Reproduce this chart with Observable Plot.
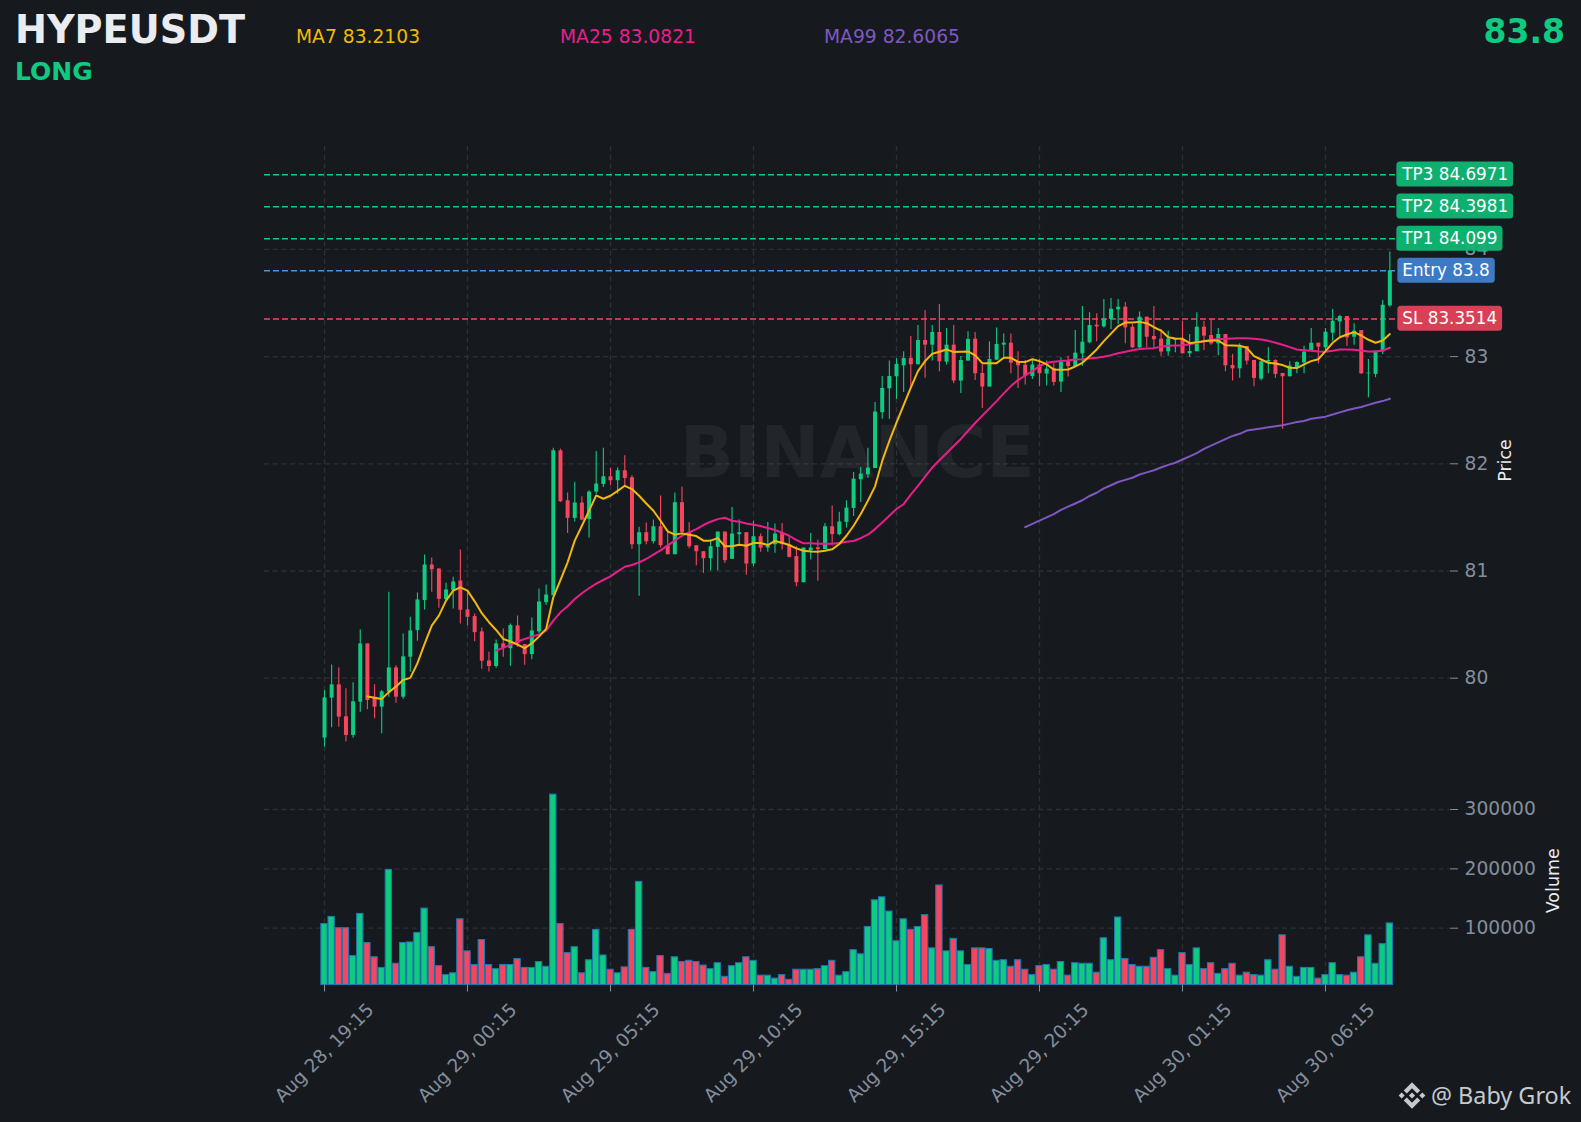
<!DOCTYPE html>
<html>
<head>
<meta charset="utf-8">
<script src="https://cdn.jsdelivr.net/npm/d3@7"></script>
<script src="https://cdn.jsdelivr.net/npm/@observablehq/plot@0.6"></script>
<style>
html,body{margin:0;padding:0;background:#161a1f;font-family:"DejaVu Sans",sans-serif;}
#page{position:relative;width:1581px;height:1122px;overflow:hidden;}
#head{position:relative;height:140px;}
#head div{position:absolute;white-space:nowrap;line-height:1;}
#chart svg{display:block;background:transparent;}
#brand{position:absolute;left:1398px;top:1079px;display:flex;align-items:center;color:#c6c9ce;font-family:"Noto Sans",sans-serif;font-size:23.4px;}
#brand svg{width:28px;height:27px;margin-right:5px;}
</style>
</head>
<body>
<div id="page">
<div id="head">
  <div style="left:15px;top:11px;font-size:38.2px;font-weight:700;color:#eaecef">HYPEUSDT</div>
  <div style="left:15px;top:59px;font-size:25px;font-weight:700;color:#0ecb81">LONG</div>
  <div style="left:296px;top:28px;font-size:18.7px;color:#f0b90b">MA7 83.2103</div>
  <div style="left:560px;top:28px;font-size:18.7px;color:#e91e8c">MA25 83.0821</div>
  <div style="left:824px;top:28px;font-size:18.7px;color:#7e57c2">MA99 82.6065</div>
  <div style="right:16px;top:15px;font-size:33px;font-weight:700;color:#0ecb81">83.8</div>
</div>
<div id="chart"></div>
<div id="brand"><svg viewBox="0 0 126 126"><path fill="#c6c9ce" d="M38.73 53.2L63 28.94l24.28 24.28 14.12-14.12L63 .69 24.6 39.09zM.61 63l14.12-14.12L28.85 63 14.73 77.12zM38.73 72.8L63 97.06l24.28-24.28 14.13 14.11L63 125.31 24.6 86.9zM97.15 63l14.12-14.12L125.39 63l-14.12 14.12zM77.32 63L63 48.67 48.67 63 63 77.32z"/></svg><span>@ Baby Grok</span></div>
</div>
<script>
const open = [79.441,79.814,79.938,79.640,79.466,79.776,80.320,79.823,79.730,79.870,80.096,79.823,80.196,80.444,80.724,81.056,81.019,80.733,80.817,80.907,
80.637,80.575,80.432,80.161,80.109,80.320,80.276,80.488,80.314,80.220,80.432,80.705,80.770,82.121,81.655,81.491,81.634,81.481,81.736,81.807,
81.879,81.842,81.935,81.870,81.245,81.357,81.273,81.413,81.236,81.152,81.637,81.360,81.236,81.180,81.115,81.220,81.363,81.109,81.339,81.357,
81.065,81.320,81.214,81.245,81.357,81.245,81.134,80.891,81.189,81.217,81.199,81.413,81.339,81.453,81.584,81.851,81.898,81.956,82.477,82.700,
82.812,82.914,82.983,82.924,83.150,83.107,83.225,82.949,83.107,82.772,82.958,83.163,82.843,82.716,82.967,83.107,83.125,82.949,82.921,82.815,
82.921,82.837,82.889,82.762,82.952,82.908,83.026,83.129,83.293,83.277,83.346,83.436,83.461,83.274,83.082,83.368,83.188,83.163,83.045,83.150,
83.153,83.026,83.045,83.274,83.197,83.119,83.206,82.917,82.886,83.094,82.964,82.790,82.949,82.964,82.843,82.812,82.896,82.942,83.057,83.125,
83.082,83.219,83.324,83.374,83.181,83.243,82.840,82.834,83.045,83.473];
const close = [79.817,79.938,79.637,79.466,79.780,80.320,79.792,79.730,79.873,80.096,79.823,80.199,80.441,80.730,81.056,81.012,80.736,80.823,80.898,80.634,
80.568,80.425,80.158,80.109,80.320,80.276,80.491,80.320,80.220,80.441,80.711,80.776,82.121,81.646,81.491,81.634,81.475,81.736,81.811,81.879,
81.842,81.935,81.863,81.245,81.357,81.273,81.413,81.236,81.152,81.637,81.360,81.227,81.180,81.115,81.227,81.363,81.096,81.345,81.357,81.065,
81.320,81.214,81.233,81.345,81.245,81.127,80.891,81.214,81.214,81.199,81.413,81.339,81.457,81.587,81.857,81.904,81.960,82.483,82.703,82.815,
82.927,82.983,82.924,83.150,83.107,83.225,82.952,83.107,82.772,82.964,83.160,82.840,82.716,82.973,83.113,83.125,82.939,82.914,82.815,82.921,
82.840,82.883,82.759,82.949,82.908,83.032,83.135,83.290,83.277,83.349,83.442,83.461,83.268,83.082,83.368,83.181,83.157,83.042,83.163,83.160,
83.026,83.048,83.274,83.191,83.119,83.206,82.914,82.886,83.088,82.958,82.797,82.952,82.964,82.834,82.812,82.911,82.945,83.042,83.125,83.088,
83.228,83.330,83.374,83.175,83.237,82.840,82.846,83.051,83.479,83.800];
const high = [79.885,80.124,80.096,79.901,79.957,80.450,80.320,79.938,79.885,80.801,80.115,80.413,80.568,80.795,81.149,81.121,81.019,80.885,80.941,81.196,
80.795,80.599,80.469,80.242,80.357,80.460,80.506,80.581,80.314,80.562,80.832,80.870,82.146,82.137,81.727,81.829,81.693,81.748,82.115,82.146,
81.960,81.960,82.075,81.888,81.407,81.447,81.475,81.699,81.376,81.727,81.783,81.450,81.236,81.180,81.289,81.363,81.363,81.593,81.475,81.357,
81.463,81.345,81.453,81.438,81.444,81.329,81.227,81.214,81.351,81.289,81.444,81.606,81.547,81.655,81.919,81.966,82.146,82.573,82.815,82.958,
82.980,83.045,83.188,83.290,83.430,83.290,83.485,83.262,83.290,83.001,83.231,83.225,82.921,83.138,83.268,83.212,83.212,83.045,82.964,82.973,
82.973,82.958,82.933,82.989,83.004,83.243,83.467,83.408,83.399,83.532,83.541,83.532,83.504,83.299,83.417,83.368,83.467,83.253,83.237,83.160,
83.330,83.206,83.408,83.330,83.346,83.262,83.206,83.020,83.119,83.094,82.964,82.952,83.082,82.970,82.843,82.952,82.952,83.097,83.262,83.125,
83.262,83.439,83.386,83.374,83.306,83.243,82.973,83.051,83.523,83.976];
const low = [79.357,79.537,79.543,79.404,79.441,79.683,79.705,79.621,79.481,79.823,79.767,79.804,80.056,80.345,80.637,80.801,80.652,80.724,80.646,80.506,
80.488,80.339,80.084,80.059,80.093,80.196,80.112,80.289,80.121,80.171,80.413,80.680,80.770,81.640,81.351,81.457,81.469,81.307,81.717,81.779,
81.798,81.717,81.779,81.202,80.764,81.245,81.252,81.214,81.152,81.152,81.329,81.208,81.050,80.978,81.003,81.003,81.071,81.109,81.236,80.960,
81.040,81.174,81.174,81.165,81.196,81.121,80.854,80.891,81.102,80.904,81.199,81.233,81.329,81.401,81.509,81.640,81.866,81.956,82.415,82.415,
82.601,82.666,82.710,82.921,82.797,82.958,82.859,82.921,82.747,82.657,82.958,82.778,82.517,82.716,82.967,82.995,82.840,82.703,82.734,82.787,
82.719,82.725,82.725,82.666,82.809,82.902,82.911,83.119,83.138,83.268,83.253,83.299,83.119,83.076,83.076,83.082,83.076,83.004,83.004,83.035,
83.026,82.995,83.045,83.057,83.107,83.007,82.859,82.772,82.797,82.921,82.719,82.772,82.840,82.797,82.322,82.809,82.840,82.840,83.051,82.933,
83.051,83.144,83.181,83.094,83.107,82.834,82.616,82.803,83.020,83.461];
const volume = [107000,119000,100000,100000,53000,124000,75000,51000,33000,198000,40000,75000,76000,92000,133000,68000,36000,21000,24000,115000,
61000,38000,80000,38000,31000,38000,38000,48000,33000,33000,43000,35000,325000,107000,58000,68000,24000,46000,97000,54000,
30000,24000,34000,97000,178000,33000,26000,53000,23000,51000,43000,45000,43000,37000,31000,41000,18000,36000,41000,51000,
45000,20000,20000,15000,21000,13000,30000,30000,30000,31000,36000,45000,20000,26000,63000,56000,102000,147000,152000,128000,
78000,115000,97000,102000,122000,66000,172000,61000,82000,61000,38000,66000,66000,65000,45000,46000,35000,46000,30000,21000,
36000,38000,30000,43000,20000,41000,40000,40000,25000,83000,46000,118000,48000,38000,35000,35000,50000,63000,31000,20000,
58000,38000,66000,31000,41000,23000,31000,40000,20000,25000,21000,20000,46000,30000,88000,35000,18000,33000,33000,15000,
21000,41000,21000,20000,25000,51000,88000,40000,73000,108000];
const ma7Start = 6;
const ma7 = [79.829,79.817,79.807,79.870,79.922,79.984,80.003,80.140,80.320,80.491,80.584,80.724,80.817,80.848,80.817,80.717,80.606,80.522,80.450,80.366,
80.342,80.314,80.280,80.326,80.388,80.460,80.755,80.916,81.081,81.283,81.422,81.562,81.705,81.674,81.702,81.748,81.795,81.764,81.702,81.630,
81.562,81.469,81.370,81.339,81.351,81.339,81.326,81.283,81.283,81.307,81.230,81.230,81.245,81.236,81.261,81.261,81.242,81.280,81.264,81.242,
81.211,81.189,81.183,81.180,81.189,81.202,81.252,81.329,81.422,81.531,81.655,81.790,82.027,82.213,82.384,82.548,82.710,82.865,82.958,83.026,
83.045,83.067,83.042,83.045,83.048,83.011,82.939,82.939,82.939,82.989,82.989,82.952,82.949,82.976,82.958,82.927,82.880,82.877,82.880,82.908,
82.942,83.004,83.067,83.144,83.215,83.284,83.318,83.318,83.324,83.312,83.274,83.243,83.181,83.169,83.166,83.125,83.135,83.144,83.150,83.150,
83.107,83.104,83.101,83.082,83.004,82.973,82.942,82.936,82.921,82.896,82.893,82.927,82.958,82.976,83.051,83.129,83.181,83.206,83.228,83.197,
83.157,83.129,83.150,83.2103];
const ma25Start = 24;
const ma25 = [80.258,80.283,80.311,80.342,80.366,80.388,80.407,80.444,80.537,80.615,80.671,80.739,80.792,80.839,80.882,80.916,80.950,80.997,81.040,81.056,
81.081,81.112,81.152,81.193,81.239,81.283,81.329,81.360,81.391,81.429,81.460,81.484,81.497,81.469,81.460,81.444,81.432,81.419,81.401,81.382,
81.357,81.329,81.289,81.258,81.258,81.255,81.255,81.255,81.261,81.273,81.280,81.307,81.339,81.391,81.453,81.516,81.578,81.623,81.713,81.794,
81.881,81.965,82.033,82.098,82.166,82.232,82.306,82.381,82.449,82.517,82.585,82.657,82.725,82.781,82.824,82.865,82.911,82.942,82.952,82.958,
82.964,82.973,82.976,82.983,82.989,82.998,83.014,83.032,83.045,83.060,83.070,83.076,83.079,83.091,83.101,83.104,83.104,83.116,83.129,83.144,
83.157,83.163,83.166,83.169,83.172,83.172,83.166,83.160,83.147,83.129,83.110,83.088,83.067,83.060,83.054,83.048,83.045,83.054,83.067,83.067,
83.064,83.057,83.048,83.048,83.057,83.0821];
const ma99Start = 98;
const ma99 = [81.41,81.44,81.47,81.50,81.53,81.57,81.60,81.63,81.66,81.70,81.73,81.77,81.80,81.83,81.85,81.87,81.90,81.92,81.94,81.965,
81.99,82.01,82.04,82.07,82.10,82.14,82.17,82.20,82.23,82.26,82.28,82.31,82.32,82.33,82.34,82.35,82.36,82.375,82.39,82.40,
82.42,82.43,82.44,82.46,82.48,82.50,82.515,82.53,82.55,82.57,82.585,82.6065];
const levelNames = ["TP3","TP2","TP1","Entry","SL"];
const levelPrices = [84.6971,84.3981,84.099,83.8,83.3514];
const levelLines = ["#0ecb81","#0ecb81","#0ecb81","#4a90e2","#f6465d"];
const levelFills = ["#0fb774","#0fb774","#0fb774","#3f7fd0","#e04359"];
const xTicks = [0,20,40,60,80,100,120,140];
const xLabels = ["Aug 28, 19:15","Aug 29, 00:15","Aug 29, 05:15","Aug 29, 10:15","Aug 29, 15:15","Aug 29, 20:15","Aug 30, 01:15","Aug 30, 06:15"];
const priceTicks = [80,81,82,83,84];
const volumeTicks = [100000,200000,300000];
const GREEN="#0ecb81", RED="#f6465d", GRID="#2b3139", AXIS="#848e9c", TITLE="#eaecef";
const xDomain=[-8.392,157.342];
const idx=d3.range(open.length);
const col=i=>close[i]>=open[i]?GREEN:RED;
const levels=levelNames.map((n,k)=>({k,name:n,price:levelPrices[k],line:levelLines[k],text:n+" "+levelPrices[k]}));
const maLine=(arr,start,color)=>Plot.line(arr,{x:(d,j)=>start+j,y:d=>d,stroke:color,strokeWidth:2});
const common={width:1581,marginLeft:264,marginRight:132,style:{background:"transparent",fontFamily:"DejaVu Sans"}};

const priceChart=Plot.plot({...common,height:630,marginTop:6,marginBottom:0,
  x:{domain:xDomain,axis:null},
  y:{domain:[79.139,84.96],range:[630,6]},
  marks:[
    Plot.ruleX(xTicks,{stroke:GRID,strokeWidth:1.3,strokeDasharray:"5,3.7"}),
    Plot.ruleY(priceTicks,{stroke:GRID,strokeWidth:1.3,strokeDasharray:"5,3.7"}),
    Plot.text(["BINANCE"],{x:()=>74.5,y:()=>82.087,fontSize:71,fontWeight:700,fill:"#ffffff",fillOpacity:0.055}),
    Plot.ruleY(levels,{y:"price",x1:xDomain[0],x2:153.4,stroke:"line",strokeWidth:1.5,strokeOpacity:1,strokeDasharray:"6,3"}),
    Plot.ruleX(idx,{x:i=>i,y1:i=>low[i],y2:i=>high[i],stroke:col,strokeWidth:1.1}),
    Plot.ruleX(idx,{x:i=>i,y1:i=>open[i],y2:i=>close[i],stroke:col,strokeWidth:4}),
    maLine(ma99,ma99Start,"#7e57c2"),
    maLine(ma25,ma25Start,"#e91e8c"),
    maLine(ma7,ma7Start,"#f0b90b"),
    Plot.axisY({anchor:"right",ticks:priceTicks,tickFormat:d=>String(d),tickSize:8,tickPadding:7,fontSize:18.7,color:AXIS,label:null}),
    Plot.text(["Price"],{frameAnchor:"right",textAnchor:"middle",dx:56,dy:2,rotate:-90,fontSize:17.5,fill:TITLE}),
    Plot.text(levels,{x:()=>150.75,y:"price",text:"text",textAnchor:"start",fontSize:16.8,fill:"#ffffff"})
  ]});

const volumeChart=Plot.plot({...common,height:352,marginTop:0,marginBottom:137.5,
  x:{domain:xDomain,axis:null},
  y:{domain:[4300,365700],range:[214.5,0]},
  marks:[
    Plot.ruleX(xTicks,{stroke:GRID,strokeWidth:1.3,strokeDasharray:"5,3.7"}),
    Plot.ruleY(volumeTicks,{stroke:GRID,strokeWidth:1.3,strokeDasharray:"5,3.7"}),
    Plot.rectY(idx,{x1:i=>i-0.44,x2:i=>i+0.44,y1:4300,y2:i=>volume[i],fill:col,stroke:"#1f77b4",strokeWidth:1.1}),
    Plot.axisY({anchor:"right",ticks:volumeTicks,tickFormat:d=>String(d),tickSize:8,tickPadding:7,fontSize:18.7,color:AXIS,label:null}),
    Plot.text(["Volume"],{frameAnchor:"right",textAnchor:"middle",dx:104,dy:3,rotate:-90,fontSize:17.5,fill:TITLE}),
    Plot.axisX({ticks:xTicks,tickFormat:d=>xLabels[xTicks.indexOf(d)],tickSize:7,tickPadding:61,tickRotate:-45,textAnchor:"middle",lineAnchor:"middle",fontSize:18.5,color:AXIS,label:null})
  ]});

const host=document.getElementById("chart");
host.append(priceChart,volumeChart);
const levelTexts=levels.map(l=>l.text);
[...priceChart.querySelectorAll("text")].filter(t=>levelTexts.includes(t.textContent)).forEach(t=>{
  const k=levelTexts.indexOf(t.textContent);
  const b=t.getBBox();
  const r=document.createElementNS("http://www.w3.org/2000/svg","rect");
  if(t.getAttribute("transform")) r.setAttribute("transform",t.getAttribute("transform"));
  r.setAttribute("x",b.x-5);r.setAttribute("width",b.width+10);
  r.setAttribute("y",b.y+b.height/2-12.5);r.setAttribute("height",25);
  r.setAttribute("rx",3.5);r.setAttribute("fill",levelFills[k]);r.setAttribute("fill-opacity",0.95);
  t.parentNode.insertBefore(r,t);
});
</script>
</body>
</html>
